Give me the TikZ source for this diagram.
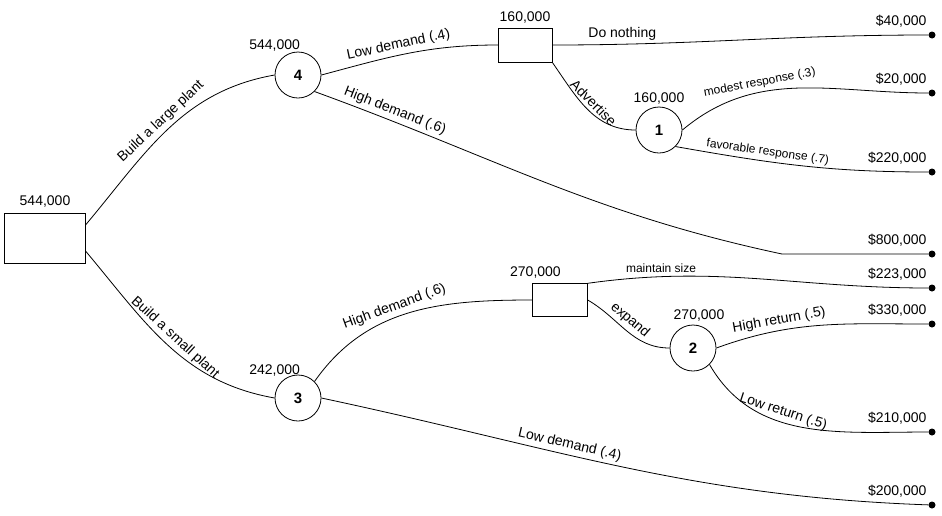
\documentclass[tikz,border=0pt]{standalone}
\usepackage{fontspec}
\setmainfont{Liberation Sans}
\usetikzlibrary{positioning}

\begin{document}
\begin{tikzpicture}[
    x=1pt, y=-1pt,
    dec_style/.style={draw=black, fill=white, rectangle, inner sep=0pt},
    chance_style/.style={draw=black, fill=white, thick, circle, minimum size=46pt, inner sep=0pt, font=\fontsize{15}{17}\selectfont\bfseries},
    end_style/.style={circle, fill=black, minimum size=7pt, inner sep=0pt},
    edge_style/.style={thick, font=\fontsize{14}{16}\selectfont},
    small_edge/.style={thick, font=\fontsize{12}{14}\selectfont},
    val_style/.style={font=\fontsize{14}{16}\selectfont}
]
\useasboundingbox (0,0) rectangle (942,515);

% Decision nodes
\node[dec_style, minimum width=81pt, minimum height=50pt] (D0) at (45,238) {};
\node[val_style, above=2pt of D0] (V0) {544,000};
\node[dec_style, minimum width=54pt, minimum height=34pt] (D1) at (525,45) {};
\node[val_style, above=1pt of D1] (V1) {160,000};
\node[dec_style, minimum width=55pt, minimum height=33pt] (D2) at (560,300) {};
\node[val_style, above left=1pt and -32pt of D2] (V2) {270,000};

% Chance nodes
\node[chance_style] (C4) at (298,75) {4};
\node[val_style, above left=4pt and -22pt of C4] (V4) {544,000};
\node[chance_style] (C3) at (298,398) {3};
\node[val_style, above left=2pt and -22pt of C3] (V3) {242,000};
\node[chance_style] (C1) at (659,130) {1};
\node[val_style, above=-1pt of C1] (VC1) {160,000};
\node[chance_style] (C2) at (693,348) {2};
\node[val_style, above=0pt of C2, xshift=6pt] (VC2) {270,000};

% End points
\node[end_style, label={[val_style, anchor=south east, xshift=-2pt]\$40,000}] (E1) at (932,35) {};
\node[end_style, label={[val_style, anchor=south east, xshift=-2pt]\$20,000}] (E2) at (932,93) {};
\node[end_style, label={[val_style, anchor=south east, xshift=-2pt]\$220,000}] (E3) at (932,172) {};
\node[end_style, label={[val_style, anchor=south east, xshift=-2pt]\$800,000}] (E4) at (932,254) {};
\node[end_style, label={[val_style, anchor=south east, xshift=-2pt]\$223,000}] (E5) at (932,288) {};
\node[end_style, label={[val_style, anchor=south east, xshift=-2pt]\$330,000}] (E6) at (932,324) {};
\node[end_style, label={[val_style, anchor=south east, xshift=-2pt]\$210,000}] (E7) at (932,432) {};
\node[end_style, label={[val_style, anchor=south east, xshift=-2pt]\$200,000}] (E8) at (932,505) {};

% Edges from root
\draw[edge_style] ([yshift=-12pt]D0.north east) to[out=50, in=190] node[sloped, above, pos=0.5] {Build a large plant} (C4.west);
\draw[edge_style] ([yshift=12pt]D0.south east) to[out=-50, in=170] node[sloped, above, pos=0.5] {Build a small plant} (C3.west);

% Edges from 4
\draw[edge_style] (C4.east) to[out=15, in=180] node[sloped, above, pos=0.45] {Low demand (.4)} (D1.west);
\draw[edge_style] (C4.south east) to[out=-20, in=168] node[sloped, above, pos=0.15] {High demand (.6)} ([xshift=-150pt]E4.center) -- (E4);

% Edges from upper decision
\draw[edge_style] (D1.east) to[out=0, in=180] node[above, pos=0.17] {Do nothing} (E1);
\draw[edge_style] (D1.south east) to[out=-55, in=180] node[sloped, above, pos=0.5] {Advertise} (C1.west);

% Edges from 1
\draw[small_edge] (C1.east) to[out=40, in=180] node[sloped, above, pos=0.35] {modest response (.3)} (E2);
\draw[small_edge] (C1.south east) to[out=-10, in=180] node[sloped, above, pos=0.35] {favorable response (.7)} (E3);

% Edges from 3
\draw[edge_style] (C3.north east) to[out=55, in=180] node[sloped, above, pos=0.45] {High demand (.6)} (D2.west);
\draw[edge_style] (C3.east) to[out=-12, in=178] node[sloped, above, pos=0.4] {Low demand (.4)} (E8);

% Edges from lower decision
\draw[small_edge] (D2.north east) to[out=8, in=180] node[above, pos=0.2] {maintain size} (E5);
\draw[edge_style] (D2.east) to[out=-30, in=180] node[sloped, above, pos=0.45] {expand} (C2.west);

% Edges from 2
\draw[edge_style] (C2.east) to[out=20, in=180] node[sloped, above, pos=0.3] {High return (.5)} (E6);
\draw[edge_style] (C2.south east) to[out=-60, in=180] node[sloped, above, pos=0.4] {Low return (.5)} (E7);

\end{tikzpicture}
\end{document}
